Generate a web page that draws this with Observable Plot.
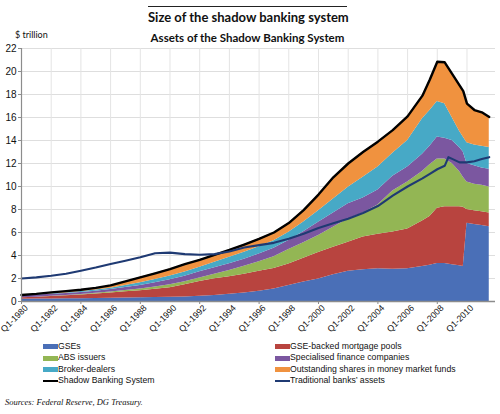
<!DOCTYPE html>
<html>
<head>
<meta charset="utf-8">
<script src="https://cdn.jsdelivr.net/npm/d3@7"></script>
<script src="https://cdn.jsdelivr.net/npm/@observablehq/plot@0.6"></script>
<style>
  body { margin: 0; background: #fff; }
  #wrap { position: relative; width: 500px; height: 414px; overflow: hidden; font-family: "Liberation Sans", Arial, sans-serif; color: #111; }
  #title { position: absolute; left: 148px; width: 199px; top: 6px; border-top: 1px solid #222; text-align: center;
           font: bold 13px Lato, "Open Sans", sans-serif; padding-top: 3px; line-height: 15px; white-space: nowrap; }
  #subtitle { position: absolute; left: 128px; width: 239px; top: 31px; text-align: center;
              font: bold 11.5px Lato, "Open Sans", sans-serif; line-height: 14px; white-space: nowrap; }
  #unit { position: absolute; left: 15px; top: 29px; font: 9px Lato, sans-serif; line-height: 11px; white-space: nowrap; }
  #chart { position: absolute; left: 0; top: 45px; }
  #legend { position: absolute; left: 43px; top: 341px; display: grid; grid-template-columns: 232px 200px;
            grid-auto-rows: 11.4px; font-size: 8.7px; line-height: 11.4px; }
  .item { display: flex; align-items: center; white-space: nowrap; }
  .sw { display: inline-block; width: 15px; flex: none; }
  #source { position: absolute; left: 5px; top: 397px; font: italic 8.5px "Liberation Serif", serif; white-space: nowrap; }
</style>
</head>
<body>
<div id="wrap">
  <div id="title">Size of the shadow banking system</div>
  <div id="subtitle">Assets of the Shadow Banking System</div>
  <div id="unit">$ trillion</div>
  <div id="chart"></div>
  <div id="legend"></div>
  <div id="source">Sources: Federal Reserve, DG Treasury.</div>
</div>
<script>
// ---- data (USD trillion) ----
const years = [1980, 1981, 1982, 1983, 1984, 1985, 1986, 1987, 1988, 1989,
               1990, 1991, 1992, 1993, 1994, 1995, 1996, 1997, 1998, 1999,
               2000, 2001, 2002, 2003, 2004, 2005, 2006, 2007, 2007.5, 2008,
               2008.5, 2009, 2009.5, 2009.75, 2010, 2010.5, 2011, 2011.5];

const gses          = [0.20, 0.21, 0.22, 0.23, 0.25, 0.27, 0.29, 0.30, 0.32, 0.34,
                       0.36, 0.40, 0.46, 0.53, 0.62, 0.74, 0.90, 1.08, 1.40, 1.70,
                       1.95, 2.32, 2.62, 2.76, 2.85, 2.80, 2.85, 3.05, 3.15, 3.30,
                       3.30, 3.20, 3.10, 3.05, 6.80, 6.70, 6.60, 6.50];
const gsePools      = [0.12, 0.16, 0.21, 0.26, 0.31, 0.38, 0.46, 0.55, 0.62, 0.72,
                       0.84, 1.05, 1.28, 1.45, 1.54, 1.64, 1.72, 1.78, 1.86, 2.06,
                       2.32, 2.40, 2.53, 2.84, 3.00, 3.25, 3.45, 3.95, 4.25, 4.80,
                       4.95, 5.05, 5.15, 5.15, 1.20, 1.20, 1.20, 1.20];
const absIssuers    = [0.01, 0.01, 0.02, 0.03, 0.04, 0.06, 0.08, 0.11, 0.15, 0.20,
                       0.26, 0.27, 0.30, 0.40, 0.54, 0.68, 0.84, 1.04, 1.26, 1.34,
                       1.48, 1.73, 2.02, 2.10, 2.55, 3.55, 4.10, 4.30, 4.50, 4.30,
                       4.15, 3.75, 3.05, 2.60, 2.40, 2.30, 2.30, 2.25];
const financeCos    = [0.17, 0.18, 0.17, 0.17, 0.18, 0.19, 0.21, 0.26, 0.31, 0.38,
                       0.44, 0.48, 0.54, 0.56, 0.58, 0.62, 0.68, 0.74, 0.78, 0.96,
                       1.15, 1.25, 1.33, 1.30, 1.30, 1.30, 1.30, 1.50, 1.60, 1.90,
                       1.80, 2.00, 2.10, 2.20, 1.60, 1.60, 1.50, 1.55];
const brokerDealers = [0.02, 0.03, 0.05, 0.06, 0.08, 0.09, 0.12, 0.18, 0.24, 0.28,
                       0.32, 0.36, 0.40, 0.48, 0.56, 0.60, 0.62, 0.64, 0.72, 0.86,
                       1.00, 1.22, 1.44, 1.80, 2.00, 2.00, 2.30, 3.10, 3.10, 3.10,
                       3.00, 2.00, 1.40, 1.30, 1.80, 1.80, 1.90, 1.90];
const mmfShares     = [0.04, 0.07, 0.12, 0.15, 0.16, 0.19, 0.24, 0.35, 0.46, 0.53,
                       0.60, 0.69, 0.64, 0.63, 0.64, 0.67, 0.69, 0.72, 0.80, 1.03,
                       1.40, 1.88, 2.06, 2.20, 2.20, 2.00, 2.10, 2.00, 2.70, 3.45,
                       3.60, 3.80, 4.00, 4.00, 3.40, 3.05, 2.95, 2.65];

const tradYears  = [1980, 1981, 1982, 1983, 1984, 1985, 1986, 1987, 1988, 1989,
                    1990, 1991, 1992, 1993, 1994, 1995, 1996, 1997, 1998, 1999,
                    2000, 2001, 2002, 2003, 2004, 2005, 2006, 2007, 2007.5, 2008,
                    2008.5, 2008.75, 2009, 2009.5, 2010, 2010.5, 2011, 2011.5];
const tradAssets = [2.00, 2.10, 2.24, 2.42, 2.68, 2.95, 3.26, 3.55, 3.84, 4.20,
                    4.25, 4.12, 4.07, 4.12, 4.35, 4.70, 4.90, 5.10, 5.45, 5.90,
                    6.40, 6.80, 7.20, 7.70, 8.30, 9.20, 10.00, 10.70, 11.10, 11.50,
                    11.80, 12.55, 12.40, 12.10, 12.10, 12.20, 12.40, 12.55];

const seriesNames  = ["GSEs", "GSE-backed mortgage pools", "ABS issuers",
                      "Specialised finance companies", "Broker-dealers",
                      "Outstanding shares in money market funds"];
const seriesColors = ["#4a6fb7", "#b8443f", "#93b654", "#7b57a0", "#47a9c6", "#f0923f"];
const totalName  = "Shadow Banking System";
const tradName   = "Traditional banks\u2019 assets";
const totalColor = "#000000";
const tradColor  = "#1f3a73";

const yTicks      = [0, 2, 4, 6, 8, 10, 12, 14, 16, 18, 20, 22];
const xTickYears  = [1980, 1982, 1984, 1986, 1988, 1990, 1992, 1994, 1996, 1998, 2000, 2002, 2004, 2006, 2008, 2010];
const xTickLabels = ["Q1-1980", "Q1-1982", "Q1-1984", "Q1-1986", "Q1-1988", "Q1-1990", "Q1-1992", "Q1-1994",
                     "Q1-1996", "Q1-1998", "Q1-2000", "Q1-2002", "Q1-2004", "Q1-2006", "Q1-2008", "Q1-2010"];
const xMarkYears  = [1980, 1984, 1988, 1992, 1996, 2000, 2004, 2008];

// ---- tidy tables for the library ----
const seriesValues = [gses, gsePools, absIssuers, financeCos, brokerDealers, mmfShares];
const rows = [];
seriesValues.forEach((vals, i) => years.forEach((yr, j) => rows.push({year: yr, series: seriesNames[i], value: vals[j]})));
const tradRows = tradYears.map((yr, j) => ({year: yr, value: tradAssets[j]}));

const chart = Plot.plot({
  width: 500, height: 294,
  marginTop: 3, marginLeft: 21, marginRight: 5, marginBottom: 38,
  style: {fontFamily: "'Liberation Sans', Arial, sans-serif", fontSize: "9px", color: "#111", background: "transparent", overflow: "visible"},
  x: {type: "linear", domain: [1980, 2011.92]},
  y: {domain: [0, 22]},
  color: {domain: seriesNames, range: seriesColors},
  marks: [
    Plot.gridY(yTicks, {stroke: "#dedede", strokeOpacity: 1}),
    Plot.gridX(xTickYears, {stroke: "#e4e4e4", strokeOpacity: 1}),
    Plot.areaY(rows, {x: "year", y: "value", z: "series", fill: "series", order: seriesNames}),
    Plot.lineY(rows, Plot.groupX({y: "sum"}, {x: "year", y: "value", stroke: totalColor, strokeWidth: 2.4, strokeLinejoin: "round"})),
    Plot.lineY(tradRows, {x: "year", y: "value", stroke: tradColor, strokeWidth: 2.1, strokeLinejoin: "round"}),
    Plot.ruleX([1980], {stroke: "#8c8c8c", strokeWidth: 1.2}),
    Plot.ruleY([0], {stroke: "#8c8c8c", strokeWidth: 1.5}),
    Plot.axisY(yTicks, {tickSize: 3, tickPadding: 2, fontSize: 10, stroke: "#8c8c8c", label: null}),
    Plot.axisX(xTickYears, {tickSize: 0, tickPadding: 3, tickRotate: -45, fontSize: 8.8, label: null, dx: 5, dy: 2,
                            tickFormat: d => xTickLabels[xTickYears.indexOf(d)]}),
    Plot.axisX(xMarkYears, {tickSize: 3, tickFormat: () => "", label: null, stroke: "#8c8c8c"})
  ]
});
document.getElementById("chart").appendChild(chart);

// ---- legend ----
const legendItems = [
  ...seriesNames.map((n, i) => ({label: n, color: seriesColors[i], kind: "area"})),
  {label: totalName, color: totalColor, kind: "line"},
  {label: tradName, color: tradColor, kind: "line"}
];
const legend = document.getElementById("legend");
legendItems.forEach(it => {
  const d = document.createElement("div");
  d.className = "item";
  const s = document.createElement("span");
  s.className = "sw";
  s.style.background = it.color;
  s.style.height = it.kind === "area" ? "5px" : "2px";
  d.appendChild(s);
  const t = document.createElement("span");
  t.textContent = it.label;
  d.appendChild(t);
  legend.appendChild(d);
});
</script>
</body>
</html>
